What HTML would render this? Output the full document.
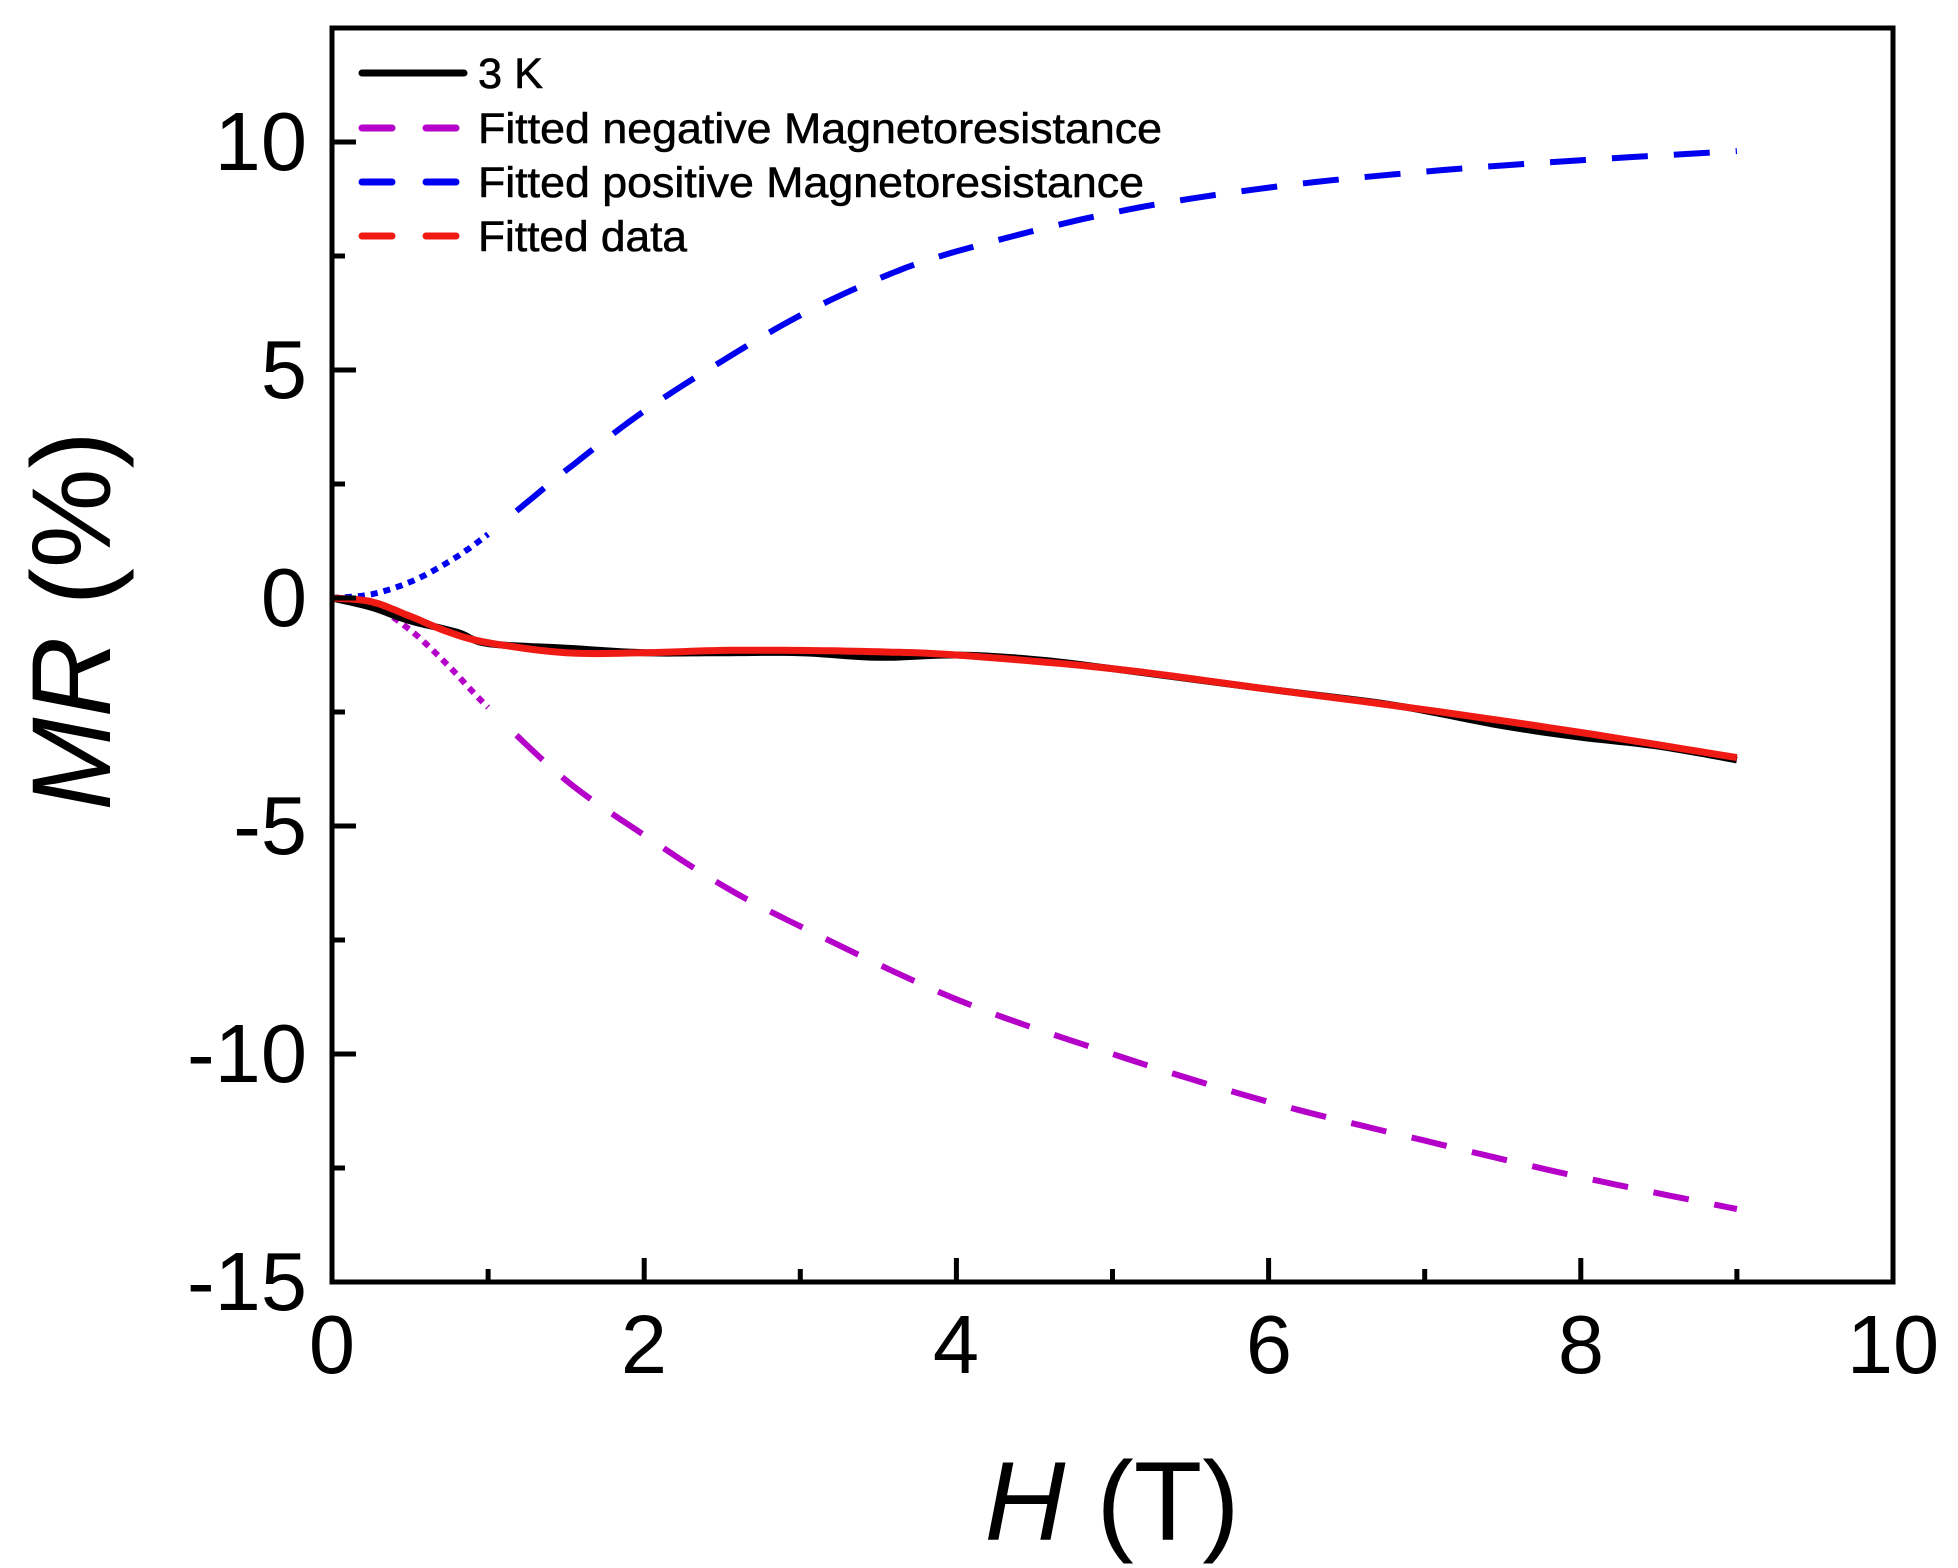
<!DOCTYPE html>
<html><head><meta charset="utf-8"><style>
html,body{margin:0;padding:0;background:#fff;}
svg{display:block;font-family:"Liberation Sans",Arial,sans-serif;}
</style></head><body>
<svg id="s" width="1958" height="1568" viewBox="0 0 1958 1568" xmlns="http://www.w3.org/2000/svg">
<rect width="1958" height="1568" fill="#fff"/>
<g id="curves"></g>
<rect x="332" y="28" width="1561" height="1254" fill="none" stroke="#000" stroke-width="5"/>
<g id="ticks" stroke="#000" stroke-width="5"></g>
<g font-size="83" fill="#000">
<text x="307" y="170" text-anchor="end">10</text>
<text x="307" y="398" text-anchor="end">5</text>
<text x="307" y="626" text-anchor="end">0</text>
<text x="307" y="854" text-anchor="end">-5</text>
<text x="307" y="1082" text-anchor="end">-10</text>
<text x="307" y="1310" text-anchor="end">-15</text>
<text x="332" y="1373" text-anchor="middle">0</text>
<text x="644" y="1373" text-anchor="middle">2</text>
<text x="956" y="1373" text-anchor="middle">4</text>
<text x="1269" y="1373" text-anchor="middle">6</text>
<text x="1581" y="1373" text-anchor="middle">8</text>
<text x="1893" y="1373" text-anchor="middle">10</text>
</g>
<text x="1112" y="1540" font-size="112" text-anchor="middle"><tspan font-style="italic">H</tspan> (T)</text>
<text transform="translate(110,621) rotate(-90)" font-size="112" text-anchor="middle"><tspan font-style="italic">MR</tspan> (%)</text>
<g stroke-width="7" stroke-linecap="round">
<line x1="362" y1="73" x2="464" y2="73" stroke="#000"/>
<line x1="362" y1="128" x2="392" y2="128" stroke="#b400c8"/><line x1="426" y1="128" x2="456" y2="128" stroke="#b400c8"/>
<line x1="362" y1="182" x2="392" y2="182" stroke="#0000f0"/><line x1="426" y1="182" x2="456" y2="182" stroke="#0000f0"/>
<line x1="362" y1="236" x2="392" y2="236" stroke="#f01a14"/><line x1="426" y1="236" x2="456" y2="236" stroke="#f01a14"/>
</g>
<g font-size="43" fill="#000" stroke="#000" stroke-width="0.6">
<text x="478" y="88" textLength="65" lengthAdjust="spacingAndGlyphs">3 K</text>
<text x="478" y="143" textLength="684" lengthAdjust="spacingAndGlyphs">Fitted negative Magnetoresistance</text>
<text x="478" y="197" textLength="666" lengthAdjust="spacingAndGlyphs">Fitted positive Magnetoresistance</text>
<text x="478" y="251" textLength="209" lengthAdjust="spacingAndGlyphs">Fitted data</text>
</g>
</svg>
<script>
var X=function(v){return 332+v*156.1;},Y=function(v){return 598-v*45.6;};
var NS="http://www.w3.org/2000/svg";
var t=document.getElementById('ticks');
function ln(x1,y1,x2,y2){var l=document.createElementNS(NS,'line');l.setAttribute('x1',x1);l.setAttribute('y1',y1);l.setAttribute('x2',x2);l.setAttribute('y2',y2);t.appendChild(l);}
for(var k=1;k<10;k++){var x=X(k);ln(x,1282,x,1282-(k%2?13:24));}
for(var k=-12.5;k<=12.5;k+=2.5){var y=Y(k);ln(332,y,332+((k%5)?13:24),y);}
function cr(pts,x0,x1){var out=[];for(var i=0;i<pts.length-1;i++){var p0=pts[Math.max(i-1,0)],p1=pts[i],p2=pts[i+1],p3=pts[Math.min(i+2,pts.length-1)];for(var s=0;s<10;s++){var u=s/10,u2=u*u,u3=u2*u;var f=function(a,b,c,d){return 0.5*((2*b)+(-a+c)*u+(2*a-5*b+4*c-d)*u2+(-a+3*b-3*c+d)*u3);};var x=f(p0[0],p1[0],p2[0],p3[0]),y=f(p0[1],p1[1],p2[1],p3[1]);if(x>=x0&&x<=x1)out.push([x,y]);}}var l=pts[pts.length-1];if(l[0]<=x1)out.push(l);return out;}
function path(pts,x0,x1,col,w,dash){var p=cr(pts,x0,x1);var d=p.map(function(q,i){return(i?'L':'M')+X(q[0]).toFixed(1)+' '+Y(q[1]).toFixed(1);}).join('');var e=document.createElementNS(NS,'path');e.setAttribute('d',d);e.setAttribute('fill','none');e.setAttribute('stroke',col);e.setAttribute('stroke-width',w);e.setAttribute('stroke-linejoin','round');if(dash)e.setAttribute('stroke-dasharray',dash);document.getElementById('curves').appendChild(e);}
var pos=[[0,0],[0.25,0.08],[0.5,0.35],[0.75,0.8],[1,1.4],[1.5,2.8],[2,4.1],[2.5,5.2],[3,6.2],[3.5,7.0],[4,7.6],[5,8.45],[6,9.0],[7,9.35],[8,9.6],[9,9.8]];
var neg=[[0,0],[0.25,-0.15],[0.5,-0.7],[0.75,-1.5],[1,-2.4],[1.5,-4.0],[2,-5.2],[2.5,-6.3],[3,-7.2],[4,-8.8],[5,-10.0],[6,-11.05],[7,-11.9],[8,-12.7],[9,-13.4]];
var blk=[[0,0],[0.25,-0.2],[0.5,-0.5],[0.8,-0.75],[1,-1.0],[1.5,-1.1],[2,-1.2],[2.5,-1.2],[3,-1.2],[3.5,-1.3],[4,-1.25],[4.5,-1.35],[5,-1.55],[6,-2.0],[6.8,-2.35],[7.5,-2.8],[8,-3.05],[8.5,-3.25],[9,-3.55]];
var red=[[0,0],[0.25,-0.08],[0.5,-0.4],[0.75,-0.75],[1,-0.98],[1.5,-1.2],[2,-1.2],[2.5,-1.15],[3,-1.15],[3.5,-1.18],[4,-1.25],[5,-1.55],[6,-2.0],[7,-2.45],[8,-2.95],[9,-3.5]];
path(pos,0,1,'#0000f0',6,'7 6');path(pos,1.15,9,'#0000f0',6,'36 26');
path(neg,0,1,'#b400c8',6,'7 6');path(neg,1.15,9,'#b400c8',6,'36 26');
path(blk,0,9,'#000',7,null);
path(red,0,9,'#f01a14',7,null);
</script>
</body></html>
